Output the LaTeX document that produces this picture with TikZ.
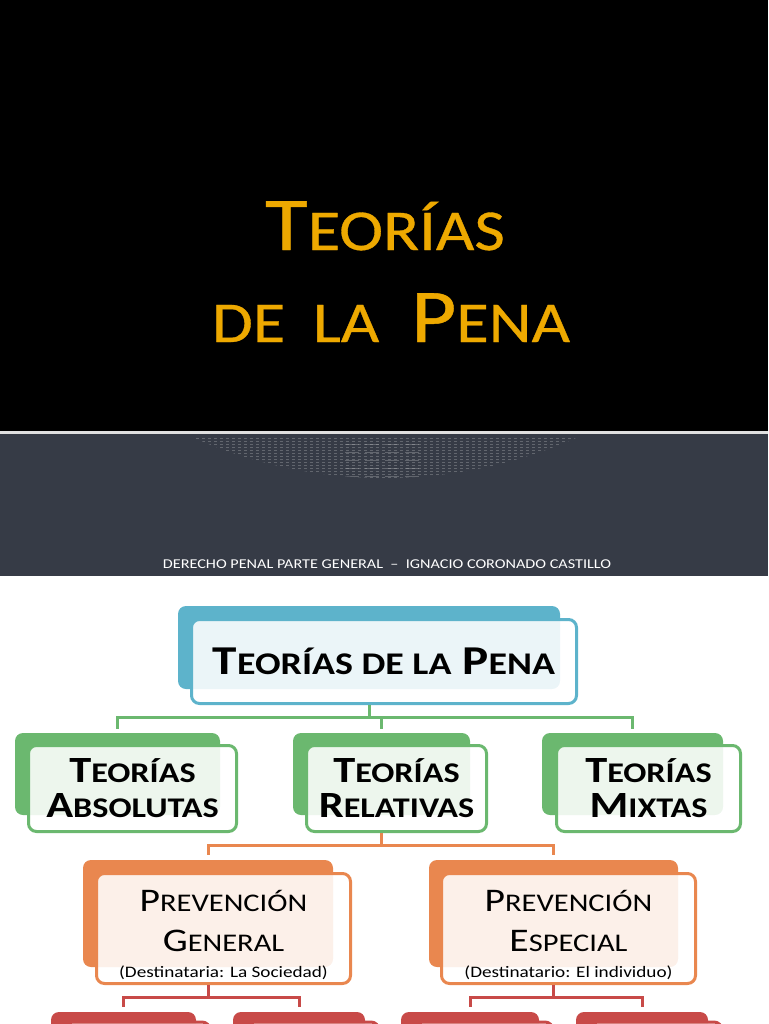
\documentclass[tikz,border=0pt]{standalone}
\usepackage{fontspec}
\setmainfont[FakeStretch=1.2]{Carlito}
\newfontfamily\smc[Scale=0.77, FakeStretch=1.2]{Carlito}
\newfontfamily\titlefont[FakeStretch=1.15, FakeBold=0.6]{Carlito}
\newfontfamily\titlesmc[Scale=0.76, FakeStretch=1.15, FakeBold=0.6]{Carlito}
\usetikzlibrary{calc}

\definecolor{slidegold}{HTML}{EEA900}
\definecolor{bandgrey}{HTML}{363B46}
\definecolor{blueline}{HTML}{5DB3CB}
\definecolor{greenline}{HTML}{6BB86F}
\definecolor{orangeline}{HTML}{E9874F}
\definecolor{redline}{HTML}{C84A48}

\tikzset{
	shadowbox/.style={fill=#1, rounded corners=8pt, inner sep=0pt},
	frontbox/.style={draw=#1, line width=3pt, rounded corners=8pt, fill=white, fill opacity=0.88, text opacity=1, inner sep=0pt, align=center, text=black},
	linkline/.style={draw=#1, line width=3pt},
	dotrow/.style={draw=white, opacity=0.22, line width=1pt, dash pattern=on 3pt off 3pt}
}

\begin{document}
\begin{tikzpicture}[x=1pt, y=-1pt]
			%%%%% START %%%%%
			\useasboundingbox (0, 0) rectangle (768, 1024);
			\clip (0, 0) rectangle (768, 1024);
			
			% title slide
			\fill[black] (0, 0) rectangle (768, 431);
			\fill[black!12] (0, 431) rectangle (768, 434);
			\fill[bandgrey] (0, 434) rectangle (768, 576);
			\begin{scope}
				\clip (385, 4) circle (474);
				\foreach \yy in {438, 441, ..., 477}
					\draw[dotrow] (130, \yy) -- (640, \yy);
				\foreach \yy in {444, 452, ..., 476}
					\draw[dotrow, dash pattern=on 14pt off 6pt] (345, \yy) -- (425, \yy);
			\end{scope}
			
			\node[anchor=base, text=slidegold, font=\titlefont\fontsize{76}{80}\selectfont] (title1) at (385, 250) {T{\titlesmc EORÍAS}};
			\node[anchor=base, text=slidegold, font=\titlefont\fontsize{76}{80}\selectfont] (title2) at (391, 342) {{\titlesmc DE}\hspace{8pt} {\titlesmc LA}\hspace{12pt} P{\titlesmc ENA}};
			\node[anchor=base, text=white, font=\fontsize{13.5}{16}\selectfont] (footer) at (387, 568) {DERECHO PENAL PARTE GENERAL \ – \ IGNACIO CORONADO CASTILLO};
			
			% top level
			\node[shadowbox=blueline, minimum width=382, minimum height=83] (topS) at (369, 647.5) {};
			\node[frontbox=blueline, minimum width=385, minimum height=84, font=\bfseries\fontsize{41}{44}\selectfont] (top) at (384, 661.5) {T{\smc EORÍAS DE LA} P{\smc ENA}};
			
			% green level
			\node[shadowbox=greenline, minimum width=205, minimum height=82] (absS) at (117.5, 774) {};
			\node[shadowbox=greenline, minimum width=177, minimum height=82] (relS) at (381.5, 774) {};
			\node[shadowbox=greenline, minimum width=181, minimum height=82] (mixS) at (632.5, 774) {};
			\node[frontbox=greenline, minimum width=208, minimum height=86, font=\bfseries\fontsize{37}{35}\selectfont] (abs) at (132.5, 788.5) {T{\smc EORÍAS}\\A{\smc BSOLUTAS}};
			\node[frontbox=greenline, minimum width=180, minimum height=86, font=\bfseries\fontsize{37}{35}\selectfont] (rel) at (396.5, 788.5) {T{\smc EORÍAS}\\R{\smc ELATIVAS}};
			\node[frontbox=greenline, minimum width=184, minimum height=86, font=\bfseries\fontsize{37}{35}\selectfont] (mix) at (648.5, 788.5) {T{\smc EORÍAS}\\M{\smc IXTAS}};
			
			\coordinate (gbar) at (0, 717);
			\draw[linkline=greenline] (topS.south |- top.south) -- (topS.south |- gbar);
			\draw[linkline=greenline] ($(absS.north)+(0, -4)$) -- (absS.north |- gbar) -- (mixS.north |- gbar) -- ($(mixS.north)+(0, -4)$);
			\draw[linkline=greenline] (relS.north |- gbar) -- ($(relS.north)+(0, -4)$);
			
			% orange level
			\node[shadowbox=orangeline, minimum width=250, minimum height=107] (genS) at (208, 913.5) {};
			\node[shadowbox=orangeline, minimum width=249, minimum height=107] (espS) at (553.5, 913.5) {};
			\node[frontbox=orangeline, minimum width=254, minimum height=110, font=\fontsize{33}{40}\selectfont] (gen) at (223.5, 928.5) {\rule{0pt}{35pt}P{\smc REVENCIÓN}\\G{\smc ENERAL}\\[-14pt]{\fontsize{16}{18}\selectfont (Destinataria: La Sociedad)}};
			\node[frontbox=orangeline, minimum width=254, minimum height=110, font=\fontsize{33}{40}\selectfont] (esp) at (568.5, 928.5) {\rule{0pt}{35pt}P{\smc REVENCIÓN}\\E{\smc SPECIAL}\\[-14pt]{\fontsize{16}{18}\selectfont (Destinatario: El individuo)}};
			
			\coordinate (obar) at (0, 845);
			\draw[linkline=orangeline] (relS.south |- rel.south) -- (relS.south |- obar);
			\draw[linkline=orangeline] ($(genS.north)+(0, -5)$) -- (genS.north |- obar) -- (espS.north |- obar) -- ($(espS.north)+(0, -5)$);
			
			% red level
			\node[shadowbox=redline, minimum width=145, minimum height=60] (pg1S) at (123.5, 1042) {};
			\node[shadowbox=redline, minimum width=132, minimum height=60] (pg2S) at (299, 1042) {};
			\node[shadowbox=redline, minimum width=138, minimum height=60] (pe1S) at (470, 1042) {};
			\node[shadowbox=redline, minimum width=132, minimum height=60] (pe2S) at (642, 1042) {};
			\node[frontbox=redline, minimum width=145, minimum height=60] (pg1) at (137.5, 1052) {};
			\node[frontbox=redline, minimum width=132, minimum height=60] (pg2) at (313, 1052) {};
			\node[frontbox=redline, minimum width=138, minimum height=60] (pe1) at (484, 1052) {};
			\node[frontbox=redline, minimum width=132, minimum height=60] (pe2) at (656, 1052) {};
			
			\coordinate (rbar) at (0, 997);
			\draw[linkline=redline] (genS.south |- gen.south) -- (genS.south |- rbar);
			\draw[linkline=redline] ($(pg1S.north)+(0, -5)$) -- (pg1S.north |- rbar) -- (pg2S.north |- rbar) -- ($(pg2S.north)+(0, -5)$);
			\draw[linkline=redline] (espS.south |- esp.south) -- (espS.south |- rbar);
			\draw[linkline=redline] ($(pe1S.north)+(0, -5)$) -- (pe1S.north |- rbar) -- (pe2S.north |- rbar) -- ($(pe2S.north)+(0, -5)$);
			
			%%%%% END %%%%%
\end{tikzpicture}
\end{document}
